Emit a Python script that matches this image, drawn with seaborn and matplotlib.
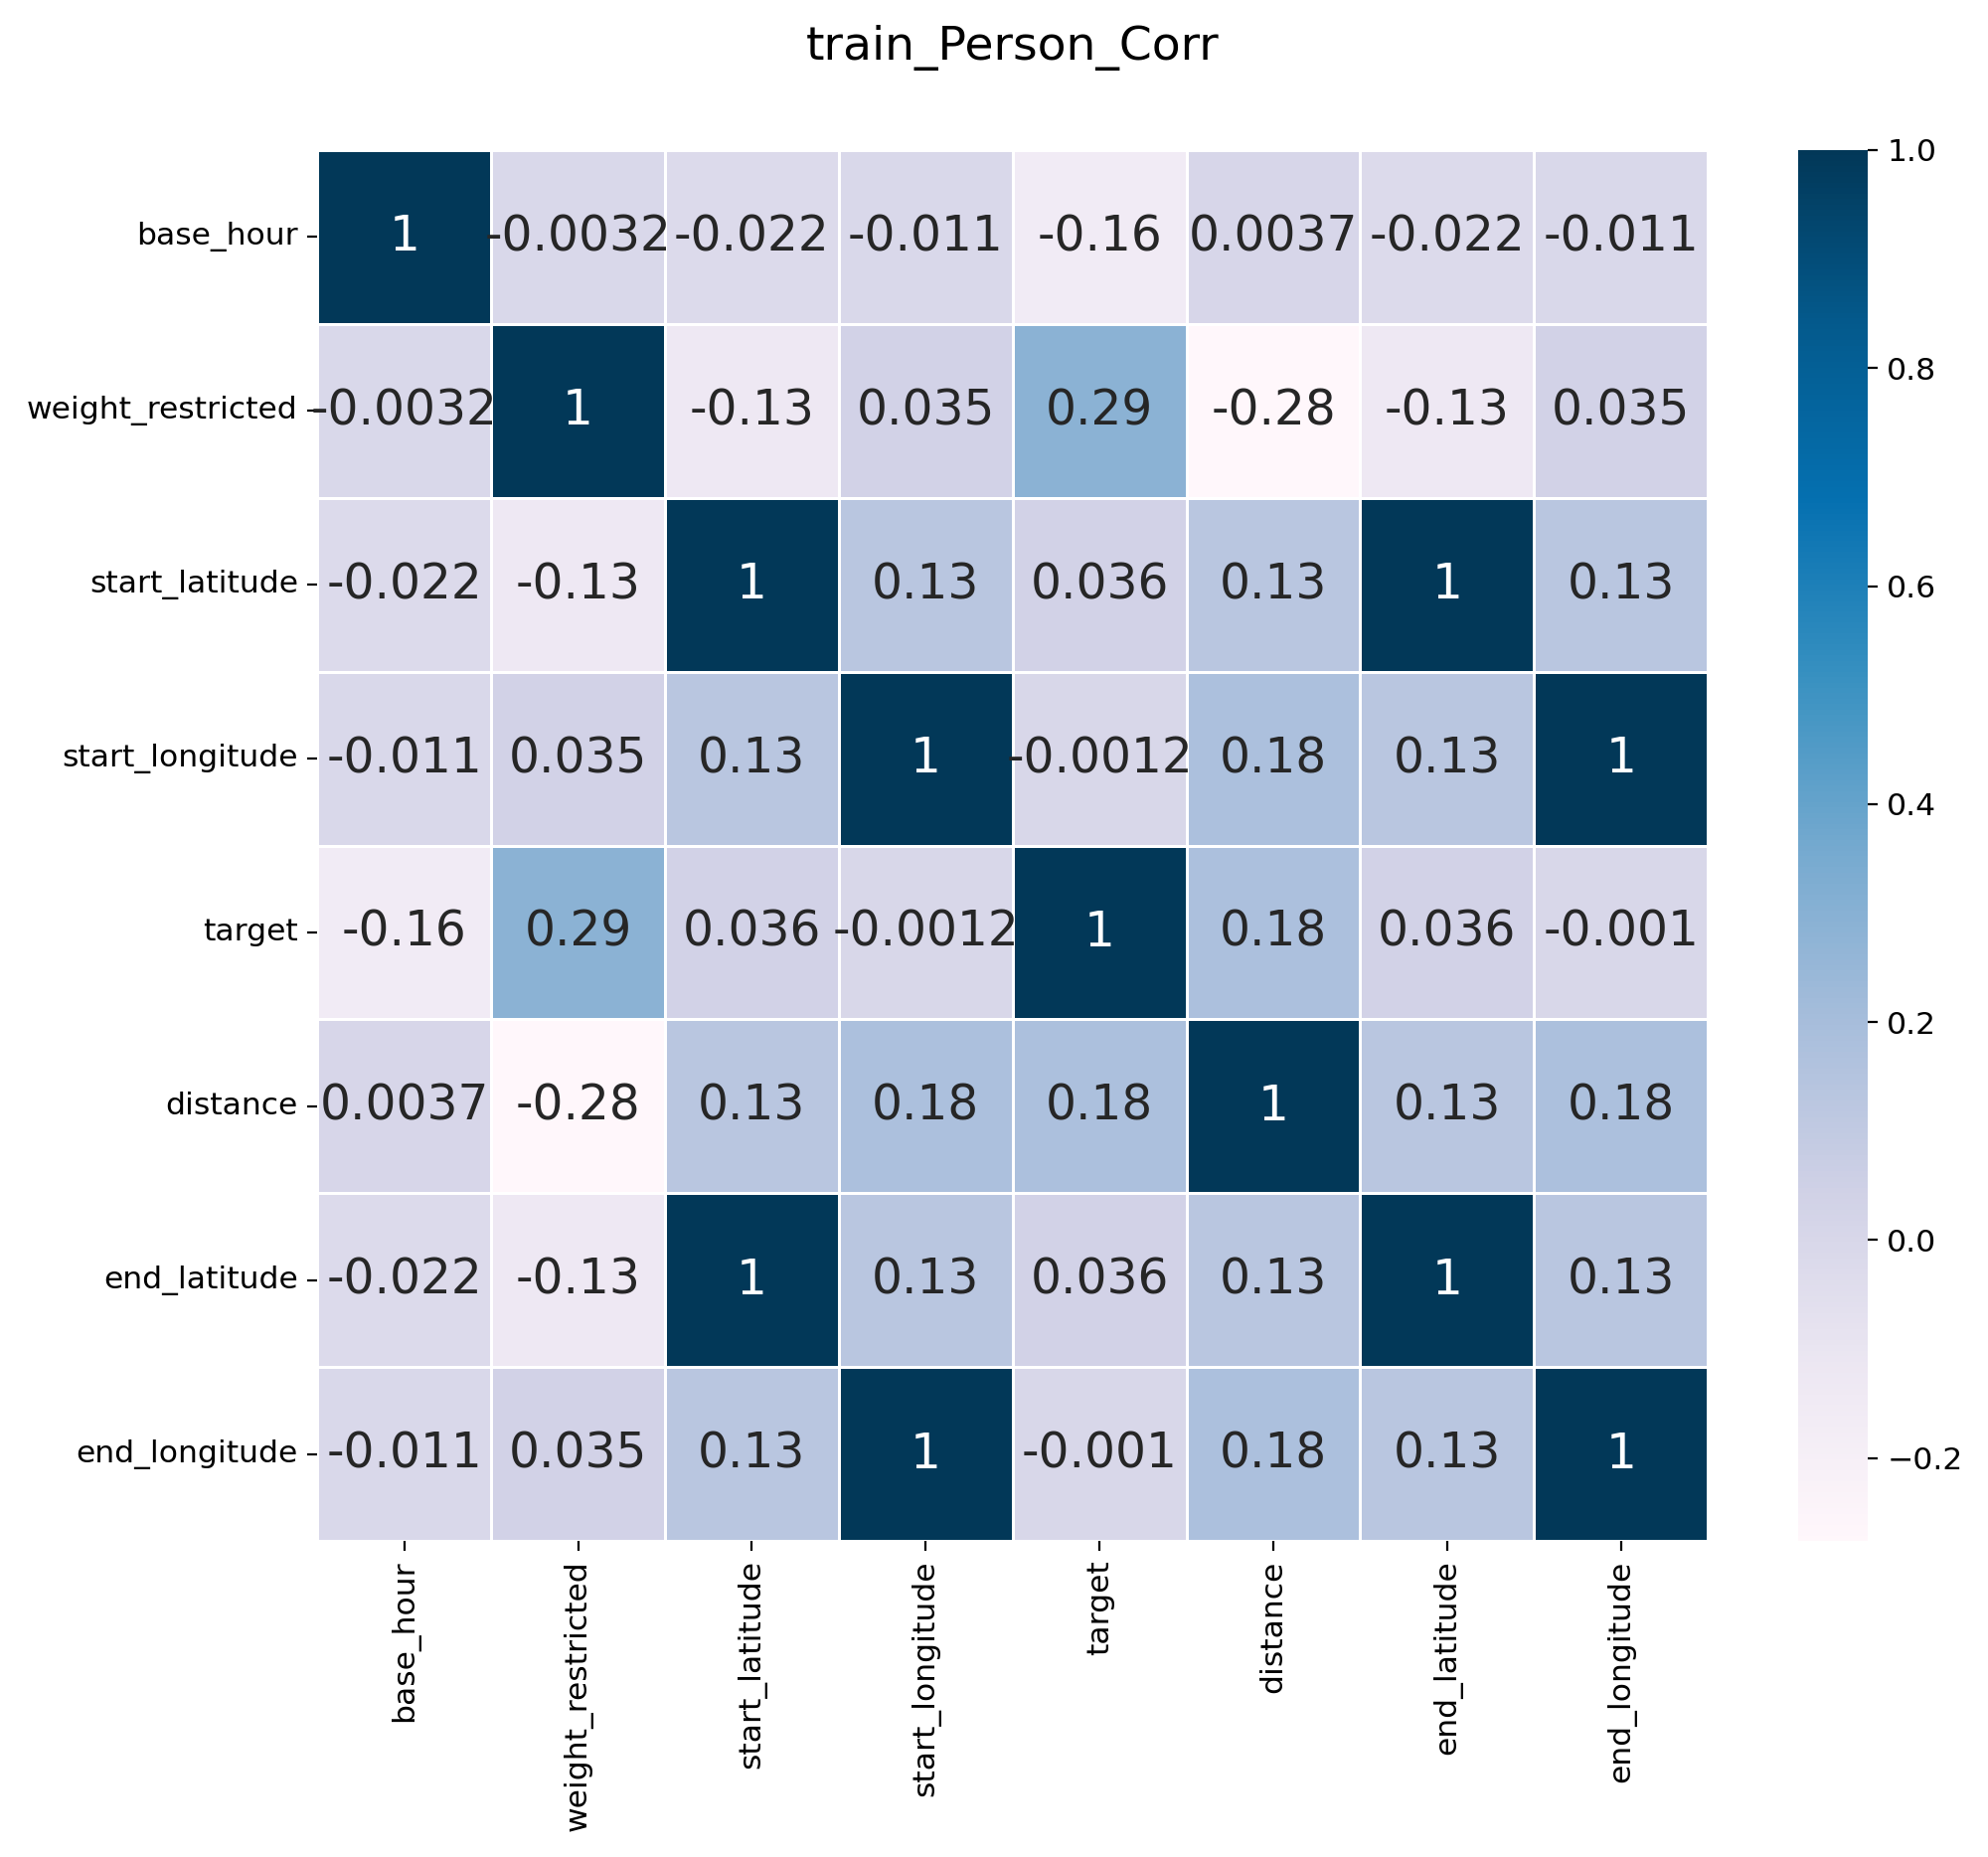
import numpy as np
import pandas as pd
import seaborn as sns
import matplotlib.pyplot as plt

## feature names
features = ['base_hour', 'weight_restricted', 'start_latitude', 'start_longitude',
            'target', 'distance', 'end_latitude', 'end_longitude']

## correlation rows
base_hour = [1, -0.0032, -0.022, -0.011, -0.16, 0.0037, -0.022, -0.011]
weight_restricted = [-0.0032, 1, -0.13, 0.035, 0.29, -0.276, -0.13, 0.035]
start_latitude = [-0.022, -0.13, 1, 0.13, 0.036, 0.13, 1, 0.13]
start_longitude = [-0.011, 0.035, 0.13, 1, -0.0012, 0.18, 0.13, 1]
target = [-0.16, 0.29, 0.036, -0.0012, 1, 0.18, 0.036, -0.001]
distance = [0.0037, -0.276, 0.13, 0.18, 0.18, 1, 0.13, 0.18]
end_latitude = [-0.022, -0.13, 1, 0.13, 0.036, 0.13, 1, 0.13]
end_longitude = [-0.011, 0.035, 0.13, 1, -0.001, 0.18, 0.13, 1]

corr = pd.DataFrame([base_hour, weight_restricted, start_latitude, start_longitude,
                     target, distance, end_latitude, end_longitude],
                    index=features, columns=features)

#####################
######## plot #######
#####################
fig = plt.figure(figsize=(10, 9.34), dpi=200)
ax = fig.add_axes([0.1596, 0.1702, 0.6995, 0.749])
cax = fig.add_axes([0.9044, 0.1702, 0.035, 0.749])

sns.heatmap(corr, ax=ax, cbar_ax=cax, cmap='PuBu', annot=True,
            annot_kws={'size': 17.5}, linewidths=1, linecolor='white',
            square=True)
ax.tick_params(labelsize=11.3)
cax.tick_params(labelsize=11.3)
## title centred over the heatmap
fig.text(0.5094, 0.9745, 'train_Person_Corr', ha='center', va='center', fontsize=17)

fig.savefig('out.png', dpi=200)
